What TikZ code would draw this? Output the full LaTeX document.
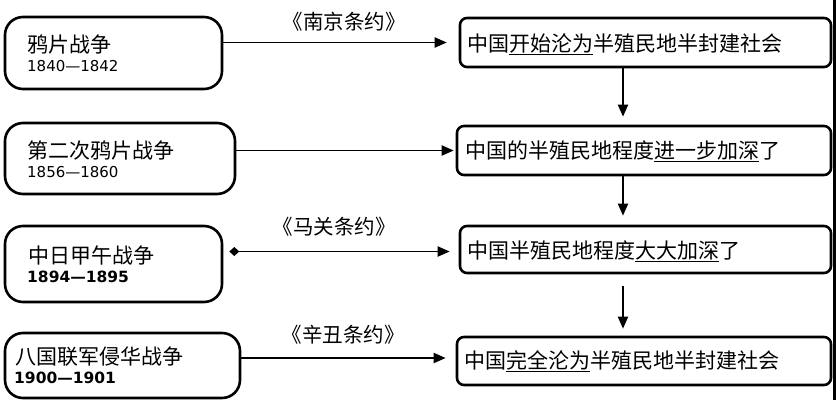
\documentclass[tikz,border=0pt]{standalone}
\usepackage{fontspec}
\setmainfont{DejaVu Sans}
\newfontfamily\cjk{Noto Sans CJK SC}
\usetikzlibrary{arrows.meta}
\begin{document}
\begin{tikzpicture}[x=1pt,y=-1pt,
  evt/.style={draw, line width=2.6pt, rounded corners=18pt, inner sep=0pt},
  res/.style={draw, line width=2.6pt, rounded corners=7pt, inner sep=0pt},
  conn/.style={line width=1.9pt, -{Triangle[length=12pt,width=10pt]}},
  cn/.style={font=\cjk\fontsize{21}{24}\selectfont, inner sep=0pt, anchor=west},
  yr/.style={font=\fontsize{15}{17}\selectfont, inner sep=0pt, anchor=base west},
  yrb/.style={font=\bfseries\fontsize{15.5}{17}\selectfont, inner sep=0pt, anchor=base west},
  treaty/.style={font=\cjk\fontsize{20.5}{23}\selectfont, inner sep=0pt}]
\useasboundingbox (0,0) rectangle (836,400);
\fill[white] (0,0) rectangle (836,400);

% left event boxes
\node[evt, minimum width=217pt, minimum height=72pt] (L1) at (113.5,53) {};
\node[evt, minimum width=230pt, minimum height=71pt] (L2) at (120,158.5) {};
\node[evt, minimum width=217pt, minimum height=76pt] (L3) at (113.5,264) {};
\node[evt, minimum width=235pt, minimum height=65pt] (L4) at (122.5,365.5) {};

\node[cn] (L1t) at (27,44) {鸦片战争};
\node[yr] (L1y) at (27,71) {1840—1842};
\node[cn] (L2t) at (27,151) {第二次鸦片战争};
\node[yr] (L2y) at (27,177) {1856—1860};
\node[cn] (L3t) at (28,255) {中日甲午战争};
\node[yrb] (L3y) at (27,282) {1894—1895};
\node[cn] (L4t) at (15,357) {八国联军侵华战争};
\node[yrb] (L4y) at (14,383) {1900—1901};

% right result boxes
\node[res, minimum width=371pt, minimum height=49pt] (R1) at (645.5,42.5) {};
\node[res, minimum width=374pt, minimum height=49pt] (R2) at (644,150.5) {};
\node[res, minimum width=371pt, minimum height=47pt] (R3) at (645.5,249.5) {};
\node[res, minimum width=374pt, minimum height=48pt] (R4) at (644,361) {};

\node[cn] (R1t) at (467,44) {中国\underline{开始沦为}半殖民地半封建社会};
\node[cn] (R2t) at (465,151) {中国的半殖民地程度\underline{进一步加深}了};
\node[cn] (R3t) at (467,251) {中国半殖民地程度\underline{大大加深}了};
\node[cn] (R4t) at (464,361) {中国\underline{完全沦为}半殖民地半封建社会};

% treaty labels
\node[treaty] (T1) at (344,22) {《南京条约》};
\node[treaty] (T3) at (334,227) {《马关条约》};
\node[treaty] (T4) at (343,335) {《辛丑条约》};

% horizontal connectors
\draw[conn, shorten >=12pt] (L1.east |- R1.west) -- (R1.west);
\draw[conn, shorten >=2pt] (L2.east |- R2.west) -- (R2.west);
\draw[line width=1.9pt, {Diamond[length=10pt,width=9pt]}-{Triangle[length=12pt,width=10pt]}, shorten <=6pt, shorten >=9pt]
  ([yshift=-2pt]L3.east |- R3.west) -- ([yshift=-2pt]R3.west);
\draw[conn, shorten >=10pt] ([yshift=3pt]L4.east |- R4.west) -- ([yshift=3pt]R4.west);

% vertical connectors
\coordinate (vx) at (623,0);
\draw[conn, shorten >=8pt] (R1.south -| vx) -- (R2.north -| vx);
\draw[conn, shorten >=9pt] (R2.south -| vx) -- (R3.north -| vx);
\draw[conn, shorten <=12pt, shorten >=7pt] (R3.south -| vx) -- (R4.north -| vx);

% right border line
\draw[line width=3pt] (834.5,0) -- (834.5,400);
\end{tikzpicture}
\end{document}
